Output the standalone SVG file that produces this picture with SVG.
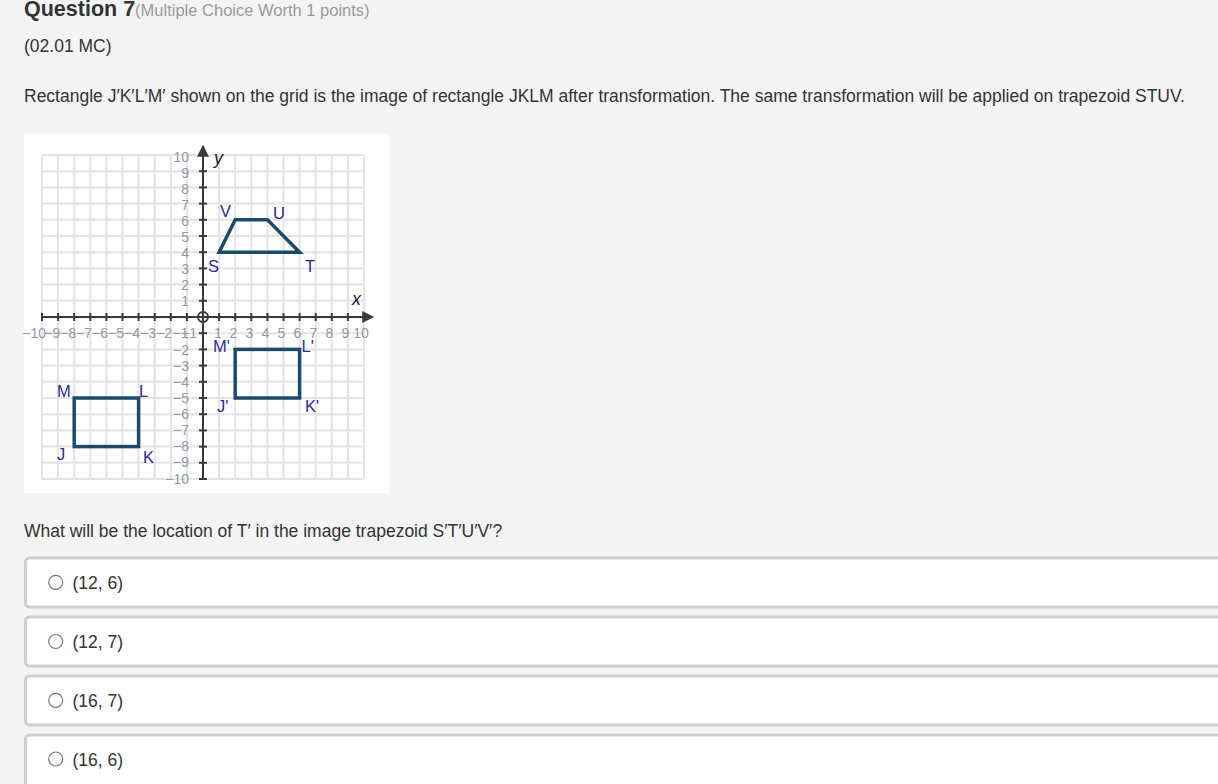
<svg xmlns="http://www.w3.org/2000/svg" width="1218" height="784" viewBox="0 0 1218 784">
<defs>
<style>
text{font-family:"Liberation Sans",Arial,sans-serif}
.q{font-size:17.5px;fill:#333}
.grid line{stroke:#e4e4e4;stroke-width:2}
.ax{stroke:#3a3a3a;stroke-width:2;fill:none}
.tk line{stroke:#3a3a3a;stroke-width:2}
.num{font-size:14px;fill:#8e99ab}
.ny{text-anchor:end}
.nx{text-anchor:middle}
.pt{font-size:16.5px;fill:#2d2a94}
.shape{fill:none;stroke:#1d4a6a;stroke-width:3.5;stroke-linejoin:miter}
.opt rect{fill:#fff;stroke:#cfcfcf;stroke-width:3}
.opt circle{fill:#fff;stroke:#777;stroke-width:1.2}
</style>
<marker id="arr" viewBox="0 0 10 10" refX="9" refY="5" markerWidth="6" markerHeight="6" orient="auto" markerUnits="strokeWidth">
<path d="M0,0 L10,5 L0,10 z" fill="#3a3a3a"/>
</marker>
</defs>
<rect x="0" y="0" width="1218" height="784" fill="#f4f4f4"/>

<g id="header">
<text x="24" y="16" style="font-size:21.5px;font-weight:bold;fill:#333">Question 7<tspan style="font-size:16.5px;font-weight:normal;fill:#9a9a9a">(Multiple Choice Worth 1 points)</tspan></text>
<text class="q" x="24" y="52">(02.01 MC)</text>
<text class="q" x="24" y="102">Rectangle J′K′L′M′ shown on the grid is the image of rectangle JKLM after transformation. The same transformation will be applied on trapezoid STUV.</text>
</g>

<g id="graph">
<rect x="24" y="134" width="365" height="359" fill="#fff"/>
<g class="grid">
<line x1="42" y1="155" x2="42" y2="479"/><line x1="58.1" y1="155" x2="58.1" y2="479"/><line x1="74.2" y1="155" x2="74.2" y2="479"/><line x1="90.3" y1="155" x2="90.3" y2="479"/><line x1="106.4" y1="155" x2="106.4" y2="479"/><line x1="122.5" y1="155" x2="122.5" y2="479"/><line x1="138.6" y1="155" x2="138.6" y2="479"/><line x1="154.7" y1="155" x2="154.7" y2="479"/><line x1="170.8" y1="155" x2="170.8" y2="479"/><line x1="186.9" y1="155" x2="186.9" y2="479"/><line x1="219.1" y1="155" x2="219.1" y2="479"/><line x1="235.2" y1="155" x2="235.2" y2="479"/><line x1="251.3" y1="155" x2="251.3" y2="479"/><line x1="267.4" y1="155" x2="267.4" y2="479"/><line x1="283.5" y1="155" x2="283.5" y2="479"/><line x1="299.6" y1="155" x2="299.6" y2="479"/><line x1="315.7" y1="155" x2="315.7" y2="479"/><line x1="331.8" y1="155" x2="331.8" y2="479"/><line x1="347.9" y1="155" x2="347.9" y2="479"/><line x1="364" y1="155" x2="364" y2="479"/>
<line x1="42" y1="155" x2="364" y2="155"/><line x1="42" y1="171.2" x2="364" y2="171.2"/><line x1="42" y1="187.4" x2="364" y2="187.4"/><line x1="42" y1="203.6" x2="364" y2="203.6"/><line x1="42" y1="219.8" x2="364" y2="219.8"/><line x1="42" y1="236" x2="364" y2="236"/><line x1="42" y1="252.2" x2="364" y2="252.2"/><line x1="42" y1="268.4" x2="364" y2="268.4"/><line x1="42" y1="284.6" x2="364" y2="284.6"/><line x1="42" y1="300.8" x2="364" y2="300.8"/><line x1="42" y1="333.2" x2="364" y2="333.2"/><line x1="42" y1="349.4" x2="364" y2="349.4"/><line x1="42" y1="365.6" x2="364" y2="365.6"/><line x1="42" y1="381.8" x2="364" y2="381.8"/><line x1="42" y1="398" x2="364" y2="398"/><line x1="42" y1="414.2" x2="364" y2="414.2"/><line x1="42" y1="430.4" x2="364" y2="430.4"/><line x1="42" y1="446.6" x2="364" y2="446.6"/><line x1="42" y1="462.8" x2="364" y2="462.8"/><line x1="42" y1="479" x2="364" y2="479"/>
</g>
<g id="axes">
<line class="ax" x1="42" y1="317" x2="373" y2="317" marker-end="url(#arr)"/>
<line class="ax" x1="203" y1="480" x2="203" y2="146" marker-end="url(#arr)"/>
<circle cx="203" cy="317" r="5" fill="none" stroke="#3a3a3a" stroke-width="2"/>
<g class="tk">
<line x1="42" y1="313" x2="42" y2="321"/><line x1="58.1" y1="313" x2="58.1" y2="321"/><line x1="74.2" y1="313" x2="74.2" y2="321"/><line x1="90.3" y1="313" x2="90.3" y2="321"/><line x1="106.4" y1="313" x2="106.4" y2="321"/><line x1="122.5" y1="313" x2="122.5" y2="321"/><line x1="138.6" y1="313" x2="138.6" y2="321"/><line x1="154.7" y1="313" x2="154.7" y2="321"/><line x1="170.8" y1="313" x2="170.8" y2="321"/><line x1="186.9" y1="313" x2="186.9" y2="321"/><line x1="219.1" y1="313" x2="219.1" y2="321"/><line x1="235.2" y1="313" x2="235.2" y2="321"/><line x1="251.3" y1="313" x2="251.3" y2="321"/><line x1="267.4" y1="313" x2="267.4" y2="321"/><line x1="283.5" y1="313" x2="283.5" y2="321"/><line x1="299.6" y1="313" x2="299.6" y2="321"/><line x1="315.7" y1="313" x2="315.7" y2="321"/><line x1="331.8" y1="313" x2="331.8" y2="321"/><line x1="347.9" y1="313" x2="347.9" y2="321"/><line x1="364" y1="313" x2="364" y2="321"/>
<line x1="199" y1="155" x2="207" y2="155"/><line x1="199" y1="171.2" x2="207" y2="171.2"/><line x1="199" y1="187.4" x2="207" y2="187.4"/><line x1="199" y1="203.6" x2="207" y2="203.6"/><line x1="199" y1="219.8" x2="207" y2="219.8"/><line x1="199" y1="236" x2="207" y2="236"/><line x1="199" y1="252.2" x2="207" y2="252.2"/><line x1="199" y1="268.4" x2="207" y2="268.4"/><line x1="199" y1="284.6" x2="207" y2="284.6"/><line x1="199" y1="300.8" x2="207" y2="300.8"/><line x1="199" y1="333.2" x2="207" y2="333.2"/><line x1="199" y1="349.4" x2="207" y2="349.4"/><line x1="199" y1="365.6" x2="207" y2="365.6"/><line x1="199" y1="381.8" x2="207" y2="381.8"/><line x1="199" y1="398" x2="207" y2="398"/><line x1="199" y1="414.2" x2="207" y2="414.2"/><line x1="199" y1="430.4" x2="207" y2="430.4"/><line x1="199" y1="446.6" x2="207" y2="446.6"/><line x1="199" y1="462.8" x2="207" y2="462.8"/><line x1="199" y1="479" x2="207" y2="479"/>
</g>
</g>
<g class="num">
<text class="ny" x="189" y="162">10</text><text class="ny" x="189" y="178">9</text><text class="ny" x="189" y="194">8</text><text class="ny" x="189" y="210">7</text><text class="ny" x="189" y="226">6</text><text class="ny" x="189" y="242">5</text><text class="ny" x="189" y="258">4</text><text class="ny" x="189" y="274">3</text><text class="ny" x="189" y="290">2</text><text class="ny" x="189" y="306">1</text>
<text class="ny" x="197" y="338">−1</text><text class="ny" x="189" y="355">−2</text><text class="ny" x="189" y="371">−3</text><text class="ny" x="189" y="387">−4</text><text class="ny" x="189" y="403">−5</text><text class="ny" x="189" y="419">−6</text><text class="ny" x="189" y="435">−7</text><text class="ny" x="189" y="451">−8</text><text class="ny" x="189" y="467">−9</text><text class="ny" x="189" y="484">−10</text>
<text class="ny" x="46" y="338">−10</text><text class="ny" x="60" y="338">−9</text><text class="ny" x="76" y="338">−8</text><text class="ny" x="92" y="338">−7</text><text class="ny" x="108" y="338">−6</text><text class="ny" x="124" y="338">−5</text><text class="ny" x="140" y="338">−4</text><text class="ny" x="156" y="338">−3</text><text class="ny" x="172" y="338">−2</text><text class="ny" x="188.5" y="338">−1</text>
<text class="nx" x="218" y="338">1</text><text class="nx" x="233.5" y="338">2</text><text class="nx" x="249.5" y="338">3</text><text class="nx" x="265.5" y="338">4</text><text class="nx" x="281.5" y="338">5</text><text class="nx" x="297.5" y="338">6</text><text class="nx" x="313.5" y="338">7</text><text class="nx" x="329.5" y="338">8</text><text class="nx" x="345.5" y="338">9</text><text class="nx" x="361" y="338">10</text>
</g>
<text x="214" y="164" style="font-size:18px;font-style:italic;fill:#1a1a40">y</text>
<text x="352" y="305" style="font-size:18px;font-style:italic;fill:#1a1a40">x</text>
</g>

<g id="trapezoid-STUV">
<polygon class="shape" points="219.1,252.2 299.6,252.2 267.4,219.8 235.2,219.8"/>
<text class="pt" x="220" y="217">V</text>
<text class="pt" x="273" y="219">U</text>
<text class="pt" x="208" y="272">S</text>
<text class="pt" x="305" y="272">T</text>
</g>

<g id="rectangle-JKLM">
<rect class="shape" x="74.2" y="398" width="64.4" height="48.6"/>
<text class="pt" x="57" y="396.5">M</text>
<text class="pt" x="139" y="396.5">L</text>
<text class="pt" x="57" y="460">J</text>
<text class="pt" x="143" y="463">K</text>
</g>

<g id="rectangle-JpKpLpMp">
<rect class="shape" x="235.2" y="349.4" width="64.4" height="48.6"/>
<text class="pt" x="213" y="351.5">M'</text>
<text class="pt" x="301.5" y="351.5">L'</text>
<text class="pt" x="217" y="411.5">J'</text>
<text class="pt" x="305" y="411.5">K'</text>
</g>

<g id="question">
<text class="q" x="24" y="537">What will be the location of T′ in the image trapezoid S′T′U′V′?</text>
</g>

<g id="options" class="opt">
<g id="opt1"><rect x="25.5" y="558" width="1210" height="49" rx="4"/><circle cx="55.7" cy="582.3" r="7"/><text class="q" x="72.5" y="589">(12, 6)</text></g>
<g id="opt2"><rect x="25.5" y="617" width="1210" height="49" rx="4"/><circle cx="55.7" cy="641.5" r="7"/><text class="q" x="72.5" y="648">(12, 7)</text></g>
<g id="opt3"><rect x="25.5" y="676" width="1210" height="49" rx="4"/><circle cx="55.7" cy="700.3" r="7"/><text class="q" x="72.5" y="707">(16, 7)</text></g>
<g id="opt4"><rect x="25.5" y="735" width="1210" height="60" rx="4"/><circle cx="55.7" cy="759" r="7"/><text class="q" x="72.5" y="766">(16, 6)</text></g>
</g>
</svg>
